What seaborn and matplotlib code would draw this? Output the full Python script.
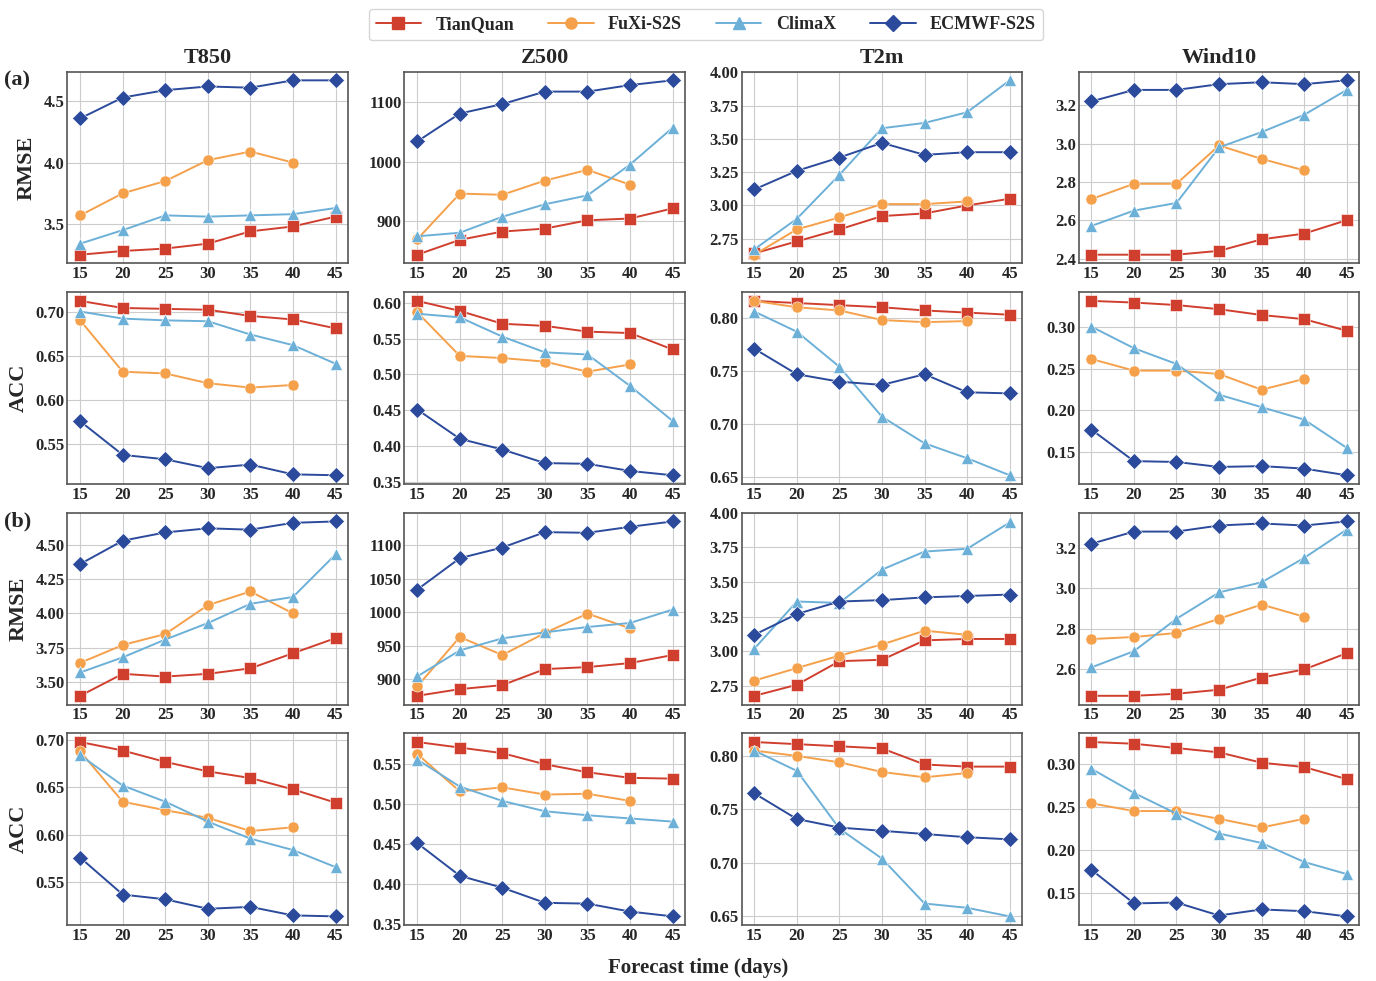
import pandas as pd
import numpy as np
import matplotlib
matplotlib.use("Agg")
import matplotlib.pyplot as plt
import matplotlib.ticker as mticker
import seaborn as sns

# -----------------------------
# Data
# -----------------------------
days = [15, 20, 25, 30, 35, 40, 45]
models = ["TianQuan", "FuXi-S2S", "ClimaX", "ECMWF-S2S"]
variables = ["T850", "Z500", "T2m", "Wind10"]

# (a) RMSE
a_rmse_t850 = {
    "TianQuan": [3.25, 3.28, 3.30, 3.34, 3.44, 3.48, 3.56],
    "FuXi-S2S": [3.57, 3.75, 3.85, 4.02, 4.09, 4.00],
    "ClimaX": [3.34, 3.45, 3.57, 3.56, 3.57, 3.58, 3.63],
    "ECMWF-S2S": [4.36, 4.53, 4.59, 4.62, 4.61, 4.67, 4.67],
}
a_rmse_z500 = {
    "TianQuan": [843, 868, 882, 887, 901, 904, 921],
    "FuXi-S2S": [869, 946, 944, 968, 986, 961],
    "ClimaX": [874, 880, 907, 928, 943, 995, 1057],
    "ECMWF-S2S": [1034, 1081, 1097, 1118, 1118, 1129, 1137],
}
a_rmse_t2m = {
    "TianQuan": [2.64, 2.73, 2.82, 2.92, 2.94, 3.00, 3.05],
    "FuXi-S2S": [2.63, 2.82, 2.91, 3.01, 3.01, 3.03],
    "ClimaX": [2.67, 2.90, 3.23, 3.58, 3.62, 3.70, 3.94],
    "ECMWF-S2S": [3.12, 3.26, 3.36, 3.47, 3.38, 3.40, 3.40],
}
a_rmse_wind10 = {
    "TianQuan": [2.42, 2.42, 2.42, 2.44, 2.50, 2.53, 2.60],
    "FuXi-S2S": [2.71, 2.79, 2.79, 2.99, 2.92, 2.86],
    "ClimaX": [2.57, 2.65, 2.69, 2.98, 3.06, 3.15, 3.28],
    "ECMWF-S2S": [3.22, 3.28, 3.28, 3.31, 3.32, 3.31, 3.33],
}

# (a) ACC
a_acc_t850 = {
    "TianQuan": [0.712, 0.704, 0.703, 0.702, 0.695, 0.691, 0.681],
    "FuXi-S2S": [0.690, 0.632, 0.630, 0.619, 0.614, 0.617],
    "ClimaX": [0.700, 0.692, 0.690, 0.689, 0.674, 0.662, 0.641],
    "ECMWF-S2S": [0.576, 0.538, 0.533, 0.523, 0.527, 0.516, 0.515],
}
a_acc_z500 = {
    "TianQuan": [0.603, 0.589, 0.571, 0.568, 0.560, 0.558, 0.535],
    "FuXi-S2S": [0.587, 0.526, 0.523, 0.518, 0.504, 0.514],
    "ClimaX": [0.585, 0.580, 0.553, 0.531, 0.528, 0.484, 0.435],
    "ECMWF-S2S": [0.451, 0.410, 0.395, 0.376, 0.375, 0.365, 0.359],
}
a_acc_t2m = {
    "TianQuan": [0.816, 0.814, 0.812, 0.810, 0.807, 0.805, 0.803],
    "FuXi-S2S": [0.816, 0.810, 0.807, 0.798, 0.796, 0.797],
    "ClimaX": [0.806, 0.787, 0.754, 0.707, 0.682, 0.668, 0.652],
    "ECMWF-S2S": [0.771, 0.747, 0.740, 0.737, 0.747, 0.730, 0.729],
}
a_acc_wind10 = {
    "TianQuan": [0.332, 0.330, 0.327, 0.322, 0.315, 0.310, 0.296],
    "FuXi-S2S": [0.262, 0.248, 0.248, 0.244, 0.225, 0.238],
    "ClimaX": [0.301, 0.275, 0.256, 0.219, 0.204, 0.189, 0.155],
    "ECMWF-S2S": [0.177, 0.139, 0.138, 0.132, 0.133, 0.130, 0.122],
}

# (b) RMSE
b_rmse_t850 = {
    "TianQuan": [3.40, 3.56, 3.54, 3.56, 3.60, 3.71, 3.82],
    "FuXi-S2S": [3.64, 3.77, 3.85, 4.06, 4.16, 4.00],
    "ClimaX": [3.57, 3.68, 3.81, 3.93, 4.07, 4.12, 4.43],
    "ECMWF-S2S": [4.36, 4.53, 4.59, 4.62, 4.61, 4.66, 4.67],
}
b_rmse_z500 = {
    "TianQuan": [875, 885, 891, 915, 918, 924, 936],
    "FuXi-S2S": [889, 963, 936, 969, 998, 976],
    "ClimaX": [904, 943, 961, 970, 978, 984, 1004],
    "ECMWF-S2S": [1034, 1081, 1097, 1120, 1119, 1128, 1136],
}
b_rmse_t2m = {
    "TianQuan": [2.68, 2.76, 2.93, 2.94, 3.08, 3.09, 3.09],
    "FuXi-S2S": [2.79, 2.88, 2.97, 3.05, 3.15, 3.12],
    "ClimaX": [3.02, 3.36, 3.35, 3.59, 3.72, 3.74, 3.93],
    "ECMWF-S2S": [3.12, 3.27, 3.36, 3.37, 3.39, 3.40, 3.41],
}
b_rmse_wind10 = {
    "TianQuan": [2.47, 2.47, 2.48, 2.50, 2.56, 2.60, 2.68],
    "FuXi-S2S": [2.75, 2.76, 2.78, 2.85, 2.92, 2.86],
    "ClimaX": [2.61, 2.69, 2.85, 2.98, 3.03, 3.15, 3.29],
    "ECMWF-S2S": [3.22, 3.28, 3.28, 3.31, 3.32, 3.31, 3.33],
}

# (b) ACC
b_acc_t850 = {
    "TianQuan": [0.698, 0.689, 0.677, 0.667, 0.660, 0.648, 0.634],
    "FuXi-S2S": [0.688, 0.635, 0.626, 0.618, 0.604, 0.608],
    "ClimaX": [0.684, 0.652, 0.635, 0.614, 0.596, 0.584, 0.566],
    "ECMWF-S2S": [0.576, 0.537, 0.532, 0.522, 0.524, 0.515, 0.514],
}
b_acc_z500 = {
    "TianQuan": [0.578, 0.571, 0.564, 0.550, 0.540, 0.533, 0.532],
    "FuXi-S2S": [0.563, 0.516, 0.521, 0.512, 0.513, 0.504],
    "ClimaX": [0.556, 0.522, 0.504, 0.491, 0.486, 0.482, 0.478],
    "ECMWF-S2S": [0.451, 0.410, 0.395, 0.376, 0.375, 0.365, 0.359],
}
b_acc_t2m = {
    "TianQuan": [0.813, 0.811, 0.809, 0.807, 0.792, 0.790, 0.790],
    "FuXi-S2S": [0.805, 0.800, 0.794, 0.785, 0.780, 0.784],
    "ClimaX": [0.805, 0.786, 0.732, 0.704, 0.662, 0.658, 0.650],
    "ECMWF-S2S": [0.765, 0.741, 0.733, 0.730, 0.727, 0.724, 0.722],
}
b_acc_wind10 = {
    "TianQuan": [0.325, 0.323, 0.318, 0.313, 0.301, 0.296, 0.282],
    "FuXi-S2S": [0.254, 0.245, 0.245, 0.236, 0.226, 0.236],
    "ClimaX": [0.294, 0.266, 0.242, 0.219, 0.208, 0.186, 0.172],
    "ECMWF-S2S": [0.177, 0.138, 0.139, 0.124, 0.131, 0.129, 0.123],
}

rows = [
    ("RMSE", [a_rmse_t850, a_rmse_z500, a_rmse_t2m, a_rmse_wind10]),
    ("ACC", [a_acc_t850, a_acc_z500, a_acc_t2m, a_acc_wind10]),
    ("RMSE", [b_rmse_t850, b_rmse_z500, b_rmse_t2m, b_rmse_wind10]),
    ("ACC", [b_acc_t850, b_acc_z500, b_acc_t2m, b_acc_wind10]),
]

# y tick step and label format for each panel
tick_steps = [
    [0.5, 100, 0.25, 0.2],
    [0.05, 0.05, 0.05, 0.05],
    [0.25, 50, 0.25, 0.2],
    [0.05, 0.05, 0.05, 0.05],
]
tick_fmts = [
    ["%.1f", "%d", "%.2f", "%.1f"],
    ["%.2f", "%.2f", "%.2f", "%.2f"],
    ["%.2f", "%d", "%.2f", "%.1f"],
    ["%.2f", "%.2f", "%.2f", "%.2f"],
]

palette = {"TianQuan": "#d03f2e", "FuXi-S2S": "#f5a04a",
           "ClimaX": "#6cb0d8", "ECMWF-S2S": "#2b4a9b"}
markers = {"TianQuan": "s", "FuXi-S2S": "o", "ClimaX": "^", "ECMWF-S2S": "D"}

# -----------------------------
# Style
# -----------------------------
sns.set_style("whitegrid")
plt.rcParams["font.family"] = ["Liberation Serif", "DejaVu Serif"]
plt.rcParams["font.weight"] = "bold"
plt.rcParams["axes.edgecolor"] = "#555555"
plt.rcParams["grid.color"] = "#cccccc"


def to_long(d):
    recs = []
    for m in models:
        for x, v in zip(days, d[m]):
            recs.append({"day": x, "value": v, "model": m})
    return pd.DataFrame(recs)


fig, axes = plt.subplots(4, 4, figsize=(13.76, 9.81), dpi=100)
fig.subplots_adjust(left=0.049, right=0.988, top=0.927, bottom=0.057,
                    wspace=0.2, hspace=0.15)

for r, (metric, panels) in enumerate(rows):
    for c, d in enumerate(panels):
        ax = axes[r, c]
        df = to_long(d)
        sns.lineplot(data=df, x="day", y="value", hue="model", style="model",
                     hue_order=models, style_order=models, palette=palette,
                     markers=markers, dashes=False, markersize=8,
                     linewidth=1.4, markeredgewidth=0.4, ax=ax, legend=False)
        ax.set_xticks(days)
        ax.set_xlim(13.5, 46.5)
        ax.yaxis.set_major_locator(mticker.MultipleLocator(tick_steps[r][c]))
        ax.yaxis.set_major_formatter(mticker.FormatStrFormatter(tick_fmts[r][c]))
        ax.set_xlabel("")
        ax.set_ylabel("")
        ax.tick_params(axis="both", labelsize=12, pad=2, length=0)
        for lab in ax.get_xticklabels() + ax.get_yticklabels():
            lab.set_fontweight("bold")
        for sp in ax.spines.values():
            sp.set_linewidth(1.2)
            sp.set_color("#555555")
        if c == 0:
            ax.set_ylabel(metric, fontsize=16, fontweight="bold", labelpad=5)
        if r == 0:
            ax.set_title(variables[c], fontsize=16, fontweight="bold", pad=6)

# T2m RMSE in (b) reaches the 4.00 tick
lo, hi = axes[2, 2].get_ylim()
axes[2, 2].set_ylim(lo, 4.0)

fig.text(0.003, 0.918, "(a)", fontsize=16, fontweight="bold", va="center")
fig.text(0.003, 0.468, "(b)", fontsize=16, fontweight="bold", va="center")
fig.text(0.507, 0.013, "Forecast time (days)", fontsize=15,
         fontweight="bold", ha="center", va="center")

handles = [plt.Line2D([], [], color=palette[m], marker=markers[m],
                      markersize=8, linewidth=1.4) for m in models]
fig.legend(handles, models, loc="upper center", ncol=4,
           bbox_to_anchor=(0.513, 1.0), frameon=True,
           prop={"weight": "bold", "size": 13}, columnspacing=1.9,
           handlelength=2.5, borderpad=0.4)

fig.savefig("out.png", dpi=100)
